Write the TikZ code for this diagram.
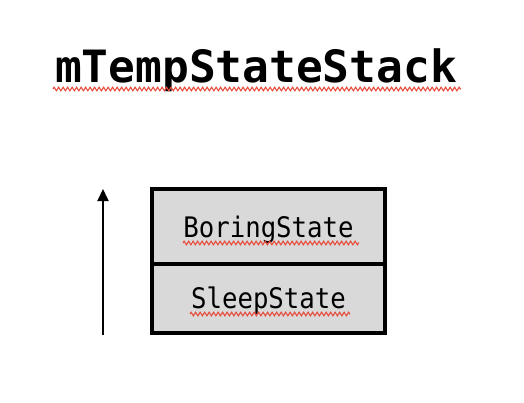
\documentclass[tikz,border=0pt]{standalone}
\usepackage{fontspec}
\setmonofont{DejaVu Sans Mono}
\usetikzlibrary{arrows.meta,decorations.pathmorphing}
\definecolor{boxgray}{HTML}{D9D9D9}
\definecolor{squig}{HTML}{E84C3D}
\tikzset{
  titletext/.style={inner sep=0pt,anchor=base,font=\ttfamily\bfseries\fontsize{44.5pt}{50pt}\selectfont},
  statebox/.style={draw=black,line width=4pt,fill=boxgray},
  statetext/.style={inner sep=0pt,anchor=base,yscale=1.1,font=\ttfamily\fontsize{25.7pt}{30pt}\selectfont},
  squiggle/.style={draw=squig,line width=1.1pt,decorate,decoration={zigzag,segment length=4.5pt,amplitude=1.8pt}},
  uparrow/.style={draw=black,line width=2pt,-{Triangle[length=12pt,width=11pt]}}
}
\begin{document}
\begin{tikzpicture}[x=1pt,y=-1pt]
\useasboundingbox (0,0) rectangle (524,402);
% title
\node[titletext] (title) at (256,82) {mTempStateStack};
\coordinate (t1) at (53,89);
\coordinate (t2) at (461,89);
\draw[squiggle] (t1) -- (t2);
% stack boxes
\draw[statebox] (152,189) rectangle (385,264);
\draw[statebox] (152,264) rectangle (385,333);
\node[statetext] (boring) at (268.5,237) {BoringState};
\node[statetext] (sleep) at (268.5,308) {SleepState};
\coordinate (b1) at (183,243);
\coordinate (b2) at (359,243);
\draw[squiggle] (b1) -- (b2);
\coordinate (s1) at (190,314);
\coordinate (s2) at (350,314);
\draw[squiggle] (s1) -- (s2);
% arrow
\coordinate (abot) at (103,335);
\coordinate (atop) at (103,189);
\draw[uparrow] (abot) -- (atop);
\end{tikzpicture}
\end{document}
